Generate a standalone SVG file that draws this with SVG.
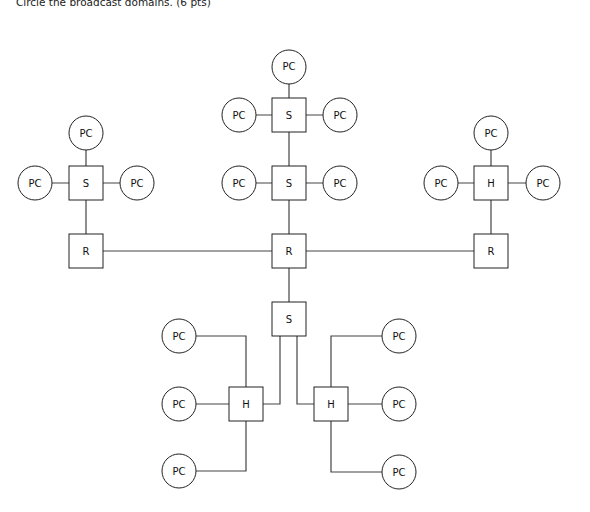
<svg xmlns="http://www.w3.org/2000/svg" width="590" height="512" viewBox="0 0 590 512">
<style>
.pc{fill:#fff;stroke:#222;stroke-width:1}
.bx{fill:#fff;stroke:#222;stroke-width:1}
.lb{font-family:"DejaVu Sans",Verdana,sans-serif;font-size:10px;fill:#111;text-anchor:middle}
.ln{fill:none;stroke:#444;stroke-width:1.2}
.title{font-family:"DejaVu Sans",Verdana,sans-serif;font-size:10.5px;fill:#222}
</style>
<rect width="590" height="512" fill="#fff"/>
<text class="title" x="16" y="6">Circle the broadcast domains. (6 pts)</text>
<g id="connectors">
<path class="ln" d="M103 251H272M306 251H474"/>
<path class="ln" d="M86 150V166M52 183H69M103 183H120M86 200V234"/>
<path class="ln" d="M289 84V98M256 115H272M306 115H323M289 132V166M256 183H272M306 183H323M289 200V234M289 268V302"/>
<path class="ln" d="M491 150V166M458 183H474M508 183H526M491 200V234"/>
<path class="ln" d="M280 336V404H263M297 336V404H314"/>
<path class="ln" d="M196 336H246V387M196 404H229M246 421V471H196"/>
<path class="ln" d="M331 387V336H382M348 404H382M331 421V472H382"/>
</g>
<g id="pc-l-top"><circle class="pc" cx="86" cy="133" r="17"/><text class="lb" x="86" y="137">PC</text></g>
<g id="pc-l-left"><circle class="pc" cx="35" cy="183" r="17"/><text class="lb" x="35" y="187">PC</text></g>
<g id="pc-l-right"><circle class="pc" cx="137" cy="183" r="17"/><text class="lb" x="137" y="187">PC</text></g>
<g id="s-left"><rect class="bx" x="69" y="166" width="34" height="34"/><text class="lb" x="86" y="187">S</text></g>
<g id="r-left"><rect class="bx" x="69" y="234" width="34" height="34"/><text class="lb" x="86" y="255">R</text></g>
<g id="pc-c-top"><circle class="pc" cx="289" cy="67" r="17"/><text class="lb" x="289" y="70">PC</text></g>
<g id="pc-c1-left"><circle class="pc" cx="239" cy="115" r="17"/><text class="lb" x="239" y="119">PC</text></g>
<g id="pc-c1-right"><circle class="pc" cx="340" cy="115" r="17"/><text class="lb" x="340" y="119">PC</text></g>
<g id="s-c1"><rect class="bx" x="272" y="98" width="34" height="34"/><text class="lb" x="289" y="119">S</text></g>
<g id="pc-c2-left"><circle class="pc" cx="239" cy="183" r="17"/><text class="lb" x="239" y="187">PC</text></g>
<g id="pc-c2-right"><circle class="pc" cx="340" cy="183" r="17"/><text class="lb" x="340" y="187">PC</text></g>
<g id="s-c2"><rect class="bx" x="272" y="166" width="34" height="34"/><text class="lb" x="289" y="187">S</text></g>
<g id="r-center"><rect class="bx" x="272" y="234" width="34" height="34"/><text class="lb" x="289" y="255">R</text></g>
<g id="pc-r-top"><circle class="pc" cx="491" cy="133" r="17"/><text class="lb" x="491" y="137">PC</text></g>
<g id="pc-r-left"><circle class="pc" cx="441" cy="183" r="17"/><text class="lb" x="441" y="187">PC</text></g>
<g id="pc-r-right"><circle class="pc" cx="543" cy="183" r="17"/><text class="lb" x="543" y="187">PC</text></g>
<g id="h-right"><rect class="bx" x="474" y="166" width="34" height="34"/><text class="lb" x="491" y="187">H</text></g>
<g id="r-right"><rect class="bx" x="474" y="234" width="34" height="34"/><text class="lb" x="491" y="255">R</text></g>
<g id="s-bottom"><rect class="bx" x="272" y="302" width="34" height="34"/><text class="lb" x="289" y="323">S</text></g>
<g id="h-bl"><rect class="bx" x="229" y="387" width="34" height="34"/><text class="lb" x="246" y="408">H</text></g>
<g id="h-br"><rect class="bx" x="314" y="387" width="34" height="34"/><text class="lb" x="331" y="408">H</text></g>
<g id="pc-bl1"><circle class="pc" cx="179" cy="336" r="17"/><text class="lb" x="179" y="340">PC</text></g>
<g id="pc-bl2"><circle class="pc" cx="179" cy="404" r="17"/><text class="lb" x="179" y="408">PC</text></g>
<g id="pc-bl3"><circle class="pc" cx="179" cy="471" r="17"/><text class="lb" x="179" y="475">PC</text></g>
<g id="pc-br1"><circle class="pc" cx="399" cy="336" r="17"/><text class="lb" x="399" y="340">PC</text></g>
<g id="pc-br2"><circle class="pc" cx="399" cy="404" r="17"/><text class="lb" x="399" y="408">PC</text></g>
<g id="pc-br3"><circle class="pc" cx="399" cy="472" r="17"/><text class="lb" x="399" y="476">PC</text></g>
</svg>
